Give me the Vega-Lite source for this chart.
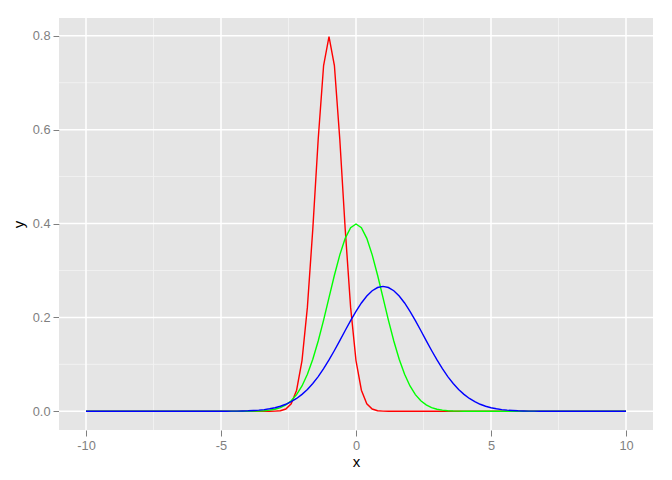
{
  "$schema": "https://vega.github.io/schema/vega-lite/v6.json",
  "width": 594,
  "height": 412,
  "autosize": {"type": "none"},
  "padding": {"left": 59, "top": 18, "right": 19, "bottom": 50},
  "background": "white",
  "config": {
    "view": {"fill": "#E5E5E5", "stroke": null},
    "font": "Liberation Sans",
    "axis": {
      "grid": false,
      "domain": false,
      "tickColor": "#7F7F7F",
      "tickSize": 6,
      "tickWidth": 1,
      "labelColor": "#7F7F7F",
      "labelFont": "Liberation Sans",
      "labelFontSize": 12.8,
      "titleFont": "Liberation Sans",
      "titleFontSize": 15,
      "titleFontWeight": "normal",
      "titleColor": "black"
    }
  },
  "datasets": {
    "minorx": [{"v": -7.5}, {"v": -2.5}, {"v": 2.5}, {"v": 7.5}],
    "majorx": [{"v": -10}, {"v": -5}, {"v": 0}, {"v": 5}, {"v": 10}],
    "minory": [{"v": 0.1}, {"v": 0.3}, {"v": 0.5}, {"v": 0.7}],
    "majory": [{"v": 0}, {"v": 0.2}, {"v": 0.4}, {"v": 0.6}, {"v": 0.8}],
    "curves": [
      {"dist": "a", "x": -10, "y": 0},
      {"dist": "a", "x": -3.6, "y": 0},
      {"dist": "a", "x": -3.4, "y": 0},
      {"dist": "a", "x": -3.2, "y": 0.0001},
      {"dist": "a", "x": -3.0, "y": 0.0003},
      {"dist": "a", "x": -2.8, "y": 0.0012},
      {"dist": "a", "x": -2.6, "y": 0.0048},
      {"dist": "a", "x": -2.4, "y": 0.0158},
      {"dist": "a", "x": -2.2, "y": 0.0448},
      {"dist": "a", "x": -2.0, "y": 0.1080},
      {"dist": "a", "x": -1.8, "y": 0.2218},
      {"dist": "a", "x": -1.6, "y": 0.3884},
      {"dist": "a", "x": -1.4, "y": 0.5794},
      {"dist": "a", "x": -1.2, "y": 0.7365},
      {"dist": "a", "x": -1.0, "y": 0.7979},
      {"dist": "a", "x": -0.8, "y": 0.7365},
      {"dist": "a", "x": -0.6, "y": 0.5794},
      {"dist": "a", "x": -0.4, "y": 0.3884},
      {"dist": "a", "x": -0.2, "y": 0.2218},
      {"dist": "a", "x": 0.0, "y": 0.1080},
      {"dist": "a", "x": 0.2, "y": 0.0448},
      {"dist": "a", "x": 0.4, "y": 0.0158},
      {"dist": "a", "x": 0.6, "y": 0.0048},
      {"dist": "a", "x": 0.8, "y": 0.0012},
      {"dist": "a", "x": 1.0, "y": 0.0003},
      {"dist": "a", "x": 1.2, "y": 0.0001},
      {"dist": "a", "x": 1.4, "y": 0},
      {"dist": "a", "x": 10, "y": 0},
      {"dist": "b", "x": -10, "y": 0},
      {"dist": "b", "x": -4.4, "y": 0},
      {"dist": "b", "x": -4.2, "y": 0},
      {"dist": "b", "x": -4.0, "y": 0.0001},
      {"dist": "b", "x": -3.8, "y": 0.0003},
      {"dist": "b", "x": -3.6, "y": 0.0006},
      {"dist": "b", "x": -3.4, "y": 0.0012},
      {"dist": "b", "x": -3.2, "y": 0.0024},
      {"dist": "b", "x": -3.0, "y": 0.0044},
      {"dist": "b", "x": -2.8, "y": 0.0079},
      {"dist": "b", "x": -2.6, "y": 0.0136},
      {"dist": "b", "x": -2.4, "y": 0.0224},
      {"dist": "b", "x": -2.2, "y": 0.0355},
      {"dist": "b", "x": -2.0, "y": 0.0540},
      {"dist": "b", "x": -1.8, "y": 0.0790},
      {"dist": "b", "x": -1.6, "y": 0.1109},
      {"dist": "b", "x": -1.4, "y": 0.1497},
      {"dist": "b", "x": -1.2, "y": 0.1942},
      {"dist": "b", "x": -1.0, "y": 0.2420},
      {"dist": "b", "x": -0.8, "y": 0.2897},
      {"dist": "b", "x": -0.6, "y": 0.3332},
      {"dist": "b", "x": -0.4, "y": 0.3683},
      {"dist": "b", "x": -0.2, "y": 0.3910},
      {"dist": "b", "x": 0.0, "y": 0.3989},
      {"dist": "b", "x": 0.2, "y": 0.3910},
      {"dist": "b", "x": 0.4, "y": 0.3683},
      {"dist": "b", "x": 0.6, "y": 0.3332},
      {"dist": "b", "x": 0.8, "y": 0.2897},
      {"dist": "b", "x": 1.0, "y": 0.2420},
      {"dist": "b", "x": 1.2, "y": 0.1942},
      {"dist": "b", "x": 1.4, "y": 0.1497},
      {"dist": "b", "x": 1.6, "y": 0.1109},
      {"dist": "b", "x": 1.8, "y": 0.0790},
      {"dist": "b", "x": 2.0, "y": 0.0540},
      {"dist": "b", "x": 2.2, "y": 0.0355},
      {"dist": "b", "x": 2.4, "y": 0.0224},
      {"dist": "b", "x": 2.6, "y": 0.0136},
      {"dist": "b", "x": 2.8, "y": 0.0079},
      {"dist": "b", "x": 3.0, "y": 0.0044},
      {"dist": "b", "x": 3.2, "y": 0.0024},
      {"dist": "b", "x": 3.4, "y": 0.0012},
      {"dist": "b", "x": 3.6, "y": 0.0006},
      {"dist": "b", "x": 3.8, "y": 0.0003},
      {"dist": "b", "x": 4.0, "y": 0.0001},
      {"dist": "b", "x": 4.2, "y": 0},
      {"dist": "b", "x": 10, "y": 0},
      {"dist": "c", "x": -10, "y": 0},
      {"dist": "c", "x": -5.4, "y": 0},
      {"dist": "c", "x": -5.2, "y": 0},
      {"dist": "c", "x": -5.0, "y": 0.0001},
      {"dist": "c", "x": -4.8, "y": 0.0002},
      {"dist": "c", "x": -4.6, "y": 0.0003},
      {"dist": "c", "x": -4.4, "y": 0.0004},
      {"dist": "c", "x": -4.2, "y": 0.0007},
      {"dist": "c", "x": -4.0, "y": 0.0010},
      {"dist": "c", "x": -3.8, "y": 0.0016},
      {"dist": "c", "x": -3.6, "y": 0.0024},
      {"dist": "c", "x": -3.4, "y": 0.0036},
      {"dist": "c", "x": -3.2, "y": 0.0053},
      {"dist": "c", "x": -3.0, "y": 0.0076},
      {"dist": "c", "x": -2.8, "y": 0.0107},
      {"dist": "c", "x": -2.6, "y": 0.0149},
      {"dist": "c", "x": -2.4, "y": 0.0204},
      {"dist": "c", "x": -2.2, "y": 0.0273},
      {"dist": "c", "x": -2.0, "y": 0.0360},
      {"dist": "c", "x": -1.8, "y": 0.0466},
      {"dist": "c", "x": -1.6, "y": 0.0592},
      {"dist": "c", "x": -1.4, "y": 0.0739},
      {"dist": "c", "x": -1.2, "y": 0.0907},
      {"dist": "c", "x": -1.0, "y": 0.1093},
      {"dist": "c", "x": -0.8, "y": 0.1295},
      {"dist": "c", "x": -0.6, "y": 0.1506},
      {"dist": "c", "x": -0.4, "y": 0.1721},
      {"dist": "c", "x": -0.2, "y": 0.1931},
      {"dist": "c", "x": 0.0, "y": 0.2130},
      {"dist": "c", "x": 0.2, "y": 0.2307},
      {"dist": "c", "x": 0.4, "y": 0.2455},
      {"dist": "c", "x": 0.6, "y": 0.2567},
      {"dist": "c", "x": 0.8, "y": 0.2636},
      {"dist": "c", "x": 1.0, "y": 0.2660},
      {"dist": "c", "x": 1.2, "y": 0.2636},
      {"dist": "c", "x": 1.4, "y": 0.2567},
      {"dist": "c", "x": 1.6, "y": 0.2455},
      {"dist": "c", "x": 1.8, "y": 0.2307},
      {"dist": "c", "x": 2.0, "y": 0.2130},
      {"dist": "c", "x": 2.2, "y": 0.1931},
      {"dist": "c", "x": 2.4, "y": 0.1721},
      {"dist": "c", "x": 2.6, "y": 0.1506},
      {"dist": "c", "x": 2.8, "y": 0.1295},
      {"dist": "c", "x": 3.0, "y": 0.1093},
      {"dist": "c", "x": 3.2, "y": 0.0907},
      {"dist": "c", "x": 3.4, "y": 0.0739},
      {"dist": "c", "x": 3.6, "y": 0.0592},
      {"dist": "c", "x": 3.8, "y": 0.0466},
      {"dist": "c", "x": 4.0, "y": 0.0360},
      {"dist": "c", "x": 4.2, "y": 0.0273},
      {"dist": "c", "x": 4.4, "y": 0.0204},
      {"dist": "c", "x": 4.6, "y": 0.0149},
      {"dist": "c", "x": 4.8, "y": 0.0107},
      {"dist": "c", "x": 5.0, "y": 0.0076},
      {"dist": "c", "x": 5.2, "y": 0.0053},
      {"dist": "c", "x": 5.4, "y": 0.0036},
      {"dist": "c", "x": 5.6, "y": 0.0024},
      {"dist": "c", "x": 5.8, "y": 0.0016},
      {"dist": "c", "x": 6.0, "y": 0.0010},
      {"dist": "c", "x": 6.2, "y": 0.0007},
      {"dist": "c", "x": 6.4, "y": 0.0004},
      {"dist": "c", "x": 6.6, "y": 0.0003},
      {"dist": "c", "x": 6.8, "y": 0.0002},
      {"dist": "c", "x": 7.0, "y": 0.0001},
      {"dist": "c", "x": 7.2, "y": 0},
      {"dist": "c", "x": 10, "y": 0}
    ]
  },
  "layer": [
    {
      "data": {"name": "minorx"},
      "mark": {"type": "rule", "color": "#F2F2F2", "strokeWidth": 0.9},
      "encoding": {
        "x": {
          "field": "v",
          "type": "quantitative",
          "title": "x",
          "scale": {"domain": [-11, 11], "nice": false, "zero": false},
          "axis": {"values": [-10, -5, 0, 5, 10], "labelExpr": "toString(datum.value)", "labelPadding": 3, "titlePadding": 3}
        }
      }
    },
    {
      "data": {"name": "minory"},
      "mark": {"type": "rule", "color": "#F2F2F2", "strokeWidth": 0.9},
      "encoding": {
        "y": {
          "field": "v",
          "type": "quantitative",
          "title": "y",
          "scale": {"domain": [-0.0399, 0.8378], "nice": false, "zero": false},
          "axis": {"values": [0, 0.2, 0.4, 0.6, 0.8], "format": ".1f", "labelPadding": 3, "titlePadding": 6}
        }
      }
    },
    {
      "data": {"name": "majorx"},
      "mark": {"type": "rule", "color": "white", "strokeWidth": 1.5},
      "encoding": {
        "x": {"field": "v", "type": "quantitative", "title": "x"}
      }
    },
    {
      "data": {"name": "majory"},
      "mark": {"type": "rule", "color": "white", "strokeWidth": 1.5},
      "encoding": {
        "y": {"field": "v", "type": "quantitative", "title": "y"}
      }
    },
    {
      "data": {"name": "curves"},
      "mark": {"type": "line", "strokeWidth": 1.4},
      "encoding": {
        "x": {"field": "x", "type": "quantitative", "title": "x"},
        "y": {"field": "y", "type": "quantitative", "title": "y"},
        "color": {
          "field": "dist",
          "type": "nominal",
          "scale": {"domain": ["a", "b", "c"], "range": ["#FF0000", "#00FF00", "#0000FF"]},
          "legend": null
        }
      }
    }
  ]
}
